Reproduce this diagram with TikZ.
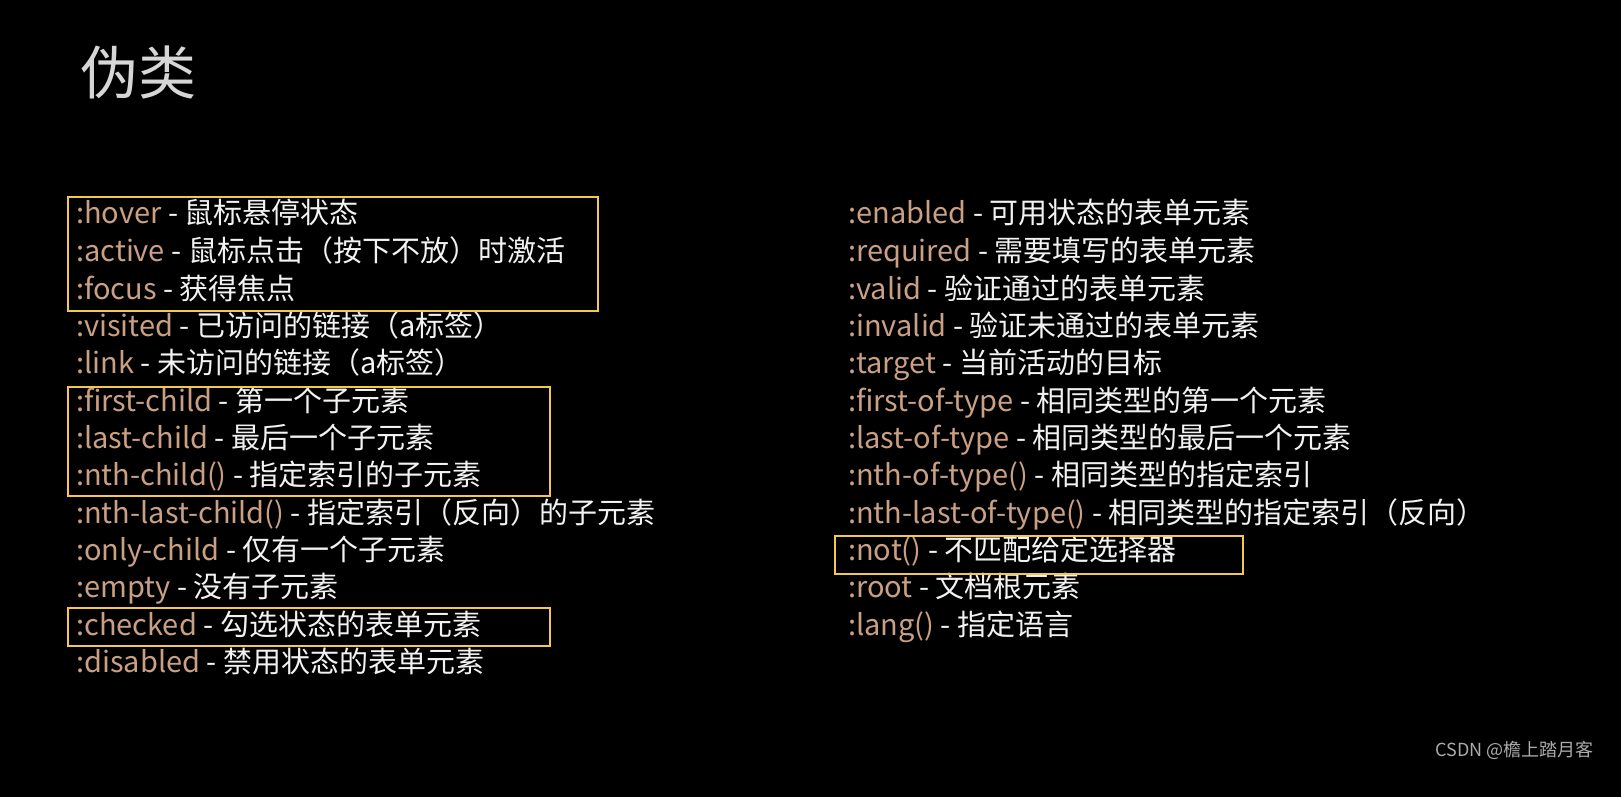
\documentclass[tikz,border=0pt]{standalone}
\usepackage{fontspec}
\setmainfont{Noto Sans CJK SC}
\definecolor{sel}{HTML}{C9A083}
\definecolor{txt}{HTML}{F2F2F2}
\definecolor{ybox}{HTML}{F2C94C}
\definecolor{ttl}{HTML}{D6D6D6}
\begin{document}
\begin{tikzpicture}[x=1pt,y=-1pt,
  item/.style={anchor=west,inner sep=0pt,font=\fontsize{29}{33}\selectfont,text=txt,text height=21pt,text depth=7pt},
  hl/.style={draw=ybox,line width=2pt}]
\fill[black] (0,0) rectangle (1621,797);
\useasboundingbox (0,0) rectangle (1621,797);
\node[anchor=west,inner sep=0pt,text=ttl,font=\fontsize{58}{64}\selectfont] (title) at (80,72) {伪类};
\node[item] (l1) at (76,216) {\textcolor{sel}{:hover} - 鼠标悬停状态};
\node[item] (l2) at (76,254) {\textcolor{sel}{:active} - 鼠标点击（按下不放）时激活};
\node[item] (l3) at (76,292) {\textcolor{sel}{:focus} - 获得焦点};
\node[item] (l4) at (76,329) {\textcolor{sel}{:visited} - 已访问的链接（a标签）};
\node[item] (l5) at (76,366) {\textcolor{sel}{:link} - 未访问的链接（a标签）};
\node[item] (l6) at (76,404) {\textcolor{sel}{:first-child} - 第一个子元素};
\node[item] (l7) at (76,441) {\textcolor{sel}{:last-child} - 最后一个子元素};
\node[item] (l8) at (76,478) {\textcolor{sel}{:nth-child()} - 指定索引的子元素};
\node[item] (l9) at (76,516) {\textcolor{sel}{:nth-last-child()} - 指定索引（反向）的子元素};
\node[item] (l10) at (76,553) {\textcolor{sel}{:only-child} - 仅有一个子元素};
\node[item] (l11) at (76,590) {\textcolor{sel}{:empty} - 没有子元素};
\node[item] (l12) at (76,628) {\textcolor{sel}{:checked} - 勾选状态的表单元素};
\node[item] (l13) at (76,665) {\textcolor{sel}{:disabled} - 禁用状态的表单元素};
\node[item] (r1) at (848,216) {\textcolor{sel}{:enabled} - 可用状态的表单元素};
\node[item] (r2) at (848,254) {\textcolor{sel}{:required} - 需要填写的表单元素};
\node[item] (r3) at (848,292) {\textcolor{sel}{:valid} - 验证通过的表单元素};
\node[item] (r4) at (848,329) {\textcolor{sel}{:invalid} - 验证未通过的表单元素};
\node[item] (r5) at (848,366) {\textcolor{sel}{:target} - 当前活动的目标};
\node[item] (r6) at (848,404) {\textcolor{sel}{:first-of-type} - 相同类型的第一个元素};
\node[item] (r7) at (848,441) {\textcolor{sel}{:last-of-type} - 相同类型的最后一个元素};
\node[item] (r8) at (848,478) {\textcolor{sel}{:nth-of-type()} - 相同类型的指定索引};
\node[item] (r9) at (848,516) {\textcolor{sel}{:nth-last-of-type()} - 相同类型的指定索引（反向）};
\node[item] (r10) at (848,553) {\textcolor{sel}{:not()} - 不匹配给定选择器};
\node[item] (r11) at (848,590) {\textcolor{sel}{:root} - 文档根元素};
\node[item] (r12) at (848,628) {\textcolor{sel}{:lang()} - 指定语言};
\draw[hl] (68,197) rectangle (598,311);
\draw[hl] (68,387) rectangle (550,496);
\draw[hl] (68,608) rectangle (550,646);
\draw[hl] (835,536) rectangle (1243,574);
\node[anchor=east,inner sep=0pt,text=ttl!80!black,font=\fontsize{18}{20}\selectfont] (wm) at (1594,750) {CSDN @檐上踏月客};
\end{tikzpicture}
\end{document}
